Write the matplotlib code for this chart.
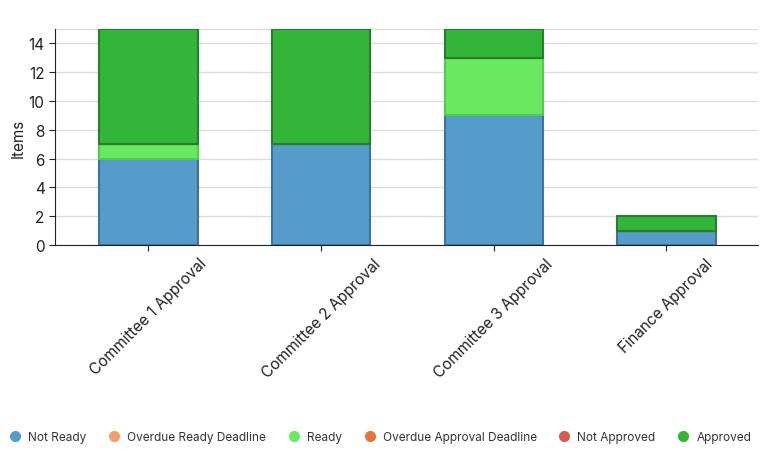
import matplotlib.pyplot as plt
from matplotlib.lines import Line2D
import numpy as np

categories = ["Committee 1 Approval", "Committee 2 Approval", "Committee 3 Approval", "Finance Approval"]
series_names = ["Not Ready", "Overdue Ready Deadline", "Ready", "Overdue Approval Deadline",
                "Not Approved", "Approved"]
not_ready = [6, 7, 9, 1]
overdue_ready = [0, 0, 0, 0]
ready = [1, 0, 4, 0]
overdue_approval = [0, 0, 0, 0]
not_approved = [0, 0, 0, 0]
approved = [8, 8, 2, 1]

fills = ["#559ccb", "#f0a06e", "#6be862", "#e8733a", "#d65a57", "#33b53a"]
edges = ["#3a72a0", "#c97d4f", "#4fcf47", "#b85620", "#a83d3a", "#24802a"]


def main():
    plt.rcParams['font.family'] = ['Inter', 'DejaVu Sans']
    fig = plt.figure(figsize=(7.78, 4.56), dpi=100)
    ax = fig.add_axes([0.0707, 0.4605, 0.9036, 0.4737])

    x = np.arange(len(categories))
    bottom = np.zeros(len(categories))
    values = [not_ready, overdue_ready, ready, overdue_approval, not_approved, approved]
    for vals, fc, ec in zip(values, fills, edges):
        vals = np.array(vals, dtype=float)
        ax.bar(x, vals, 0.57, bottom=bottom, color=fc, edgecolor=ec, linewidth=1.5, zorder=3)
        bottom += vals

    ax.set_ylim(0, 15)
    ax.set_xlim(-0.54, 3.53)
    ax.set_yticks(range(0, 15, 2))
    ax.grid(axis='y', color='#dddddd', linewidth=1, zorder=0)
    ax.axhline(15, color='#dddddd', linewidth=1, zorder=0)
    for s in ['top', 'right']:
        ax.spines[s].set_visible(False)
    ax.spines['left'].set_color('#222222')
    ax.spines['bottom'].set_color('#222222')
    ax.tick_params(axis='y', labelsize=11, length=4, colors='#222222')
    ax.tick_params(axis='x', labelsize=11, length=4, colors='#222222')
    ax.set_xticks(x)
    ax.set_xticklabels(categories, rotation=45, ha='center')
    ax.set_ylabel("Items", fontsize=11, color='#222222', labelpad=2)

    handles = [Line2D([], [], marker='o', linestyle='', markersize=7, markerfacecolor=fc,
                      markeredgecolor=fc) for fc in fills]
    fig.legend(handles, series_names, loc='center', bbox_to_anchor=(0.485, 0.04), ncol=6,
               frameon=False, fontsize=8.5, handletextpad=0.1, columnspacing=1.35,
               labelcolor='#333333')

    fig.savefig('out.png', dpi=100)


if __name__ == '__main__':
    main()
